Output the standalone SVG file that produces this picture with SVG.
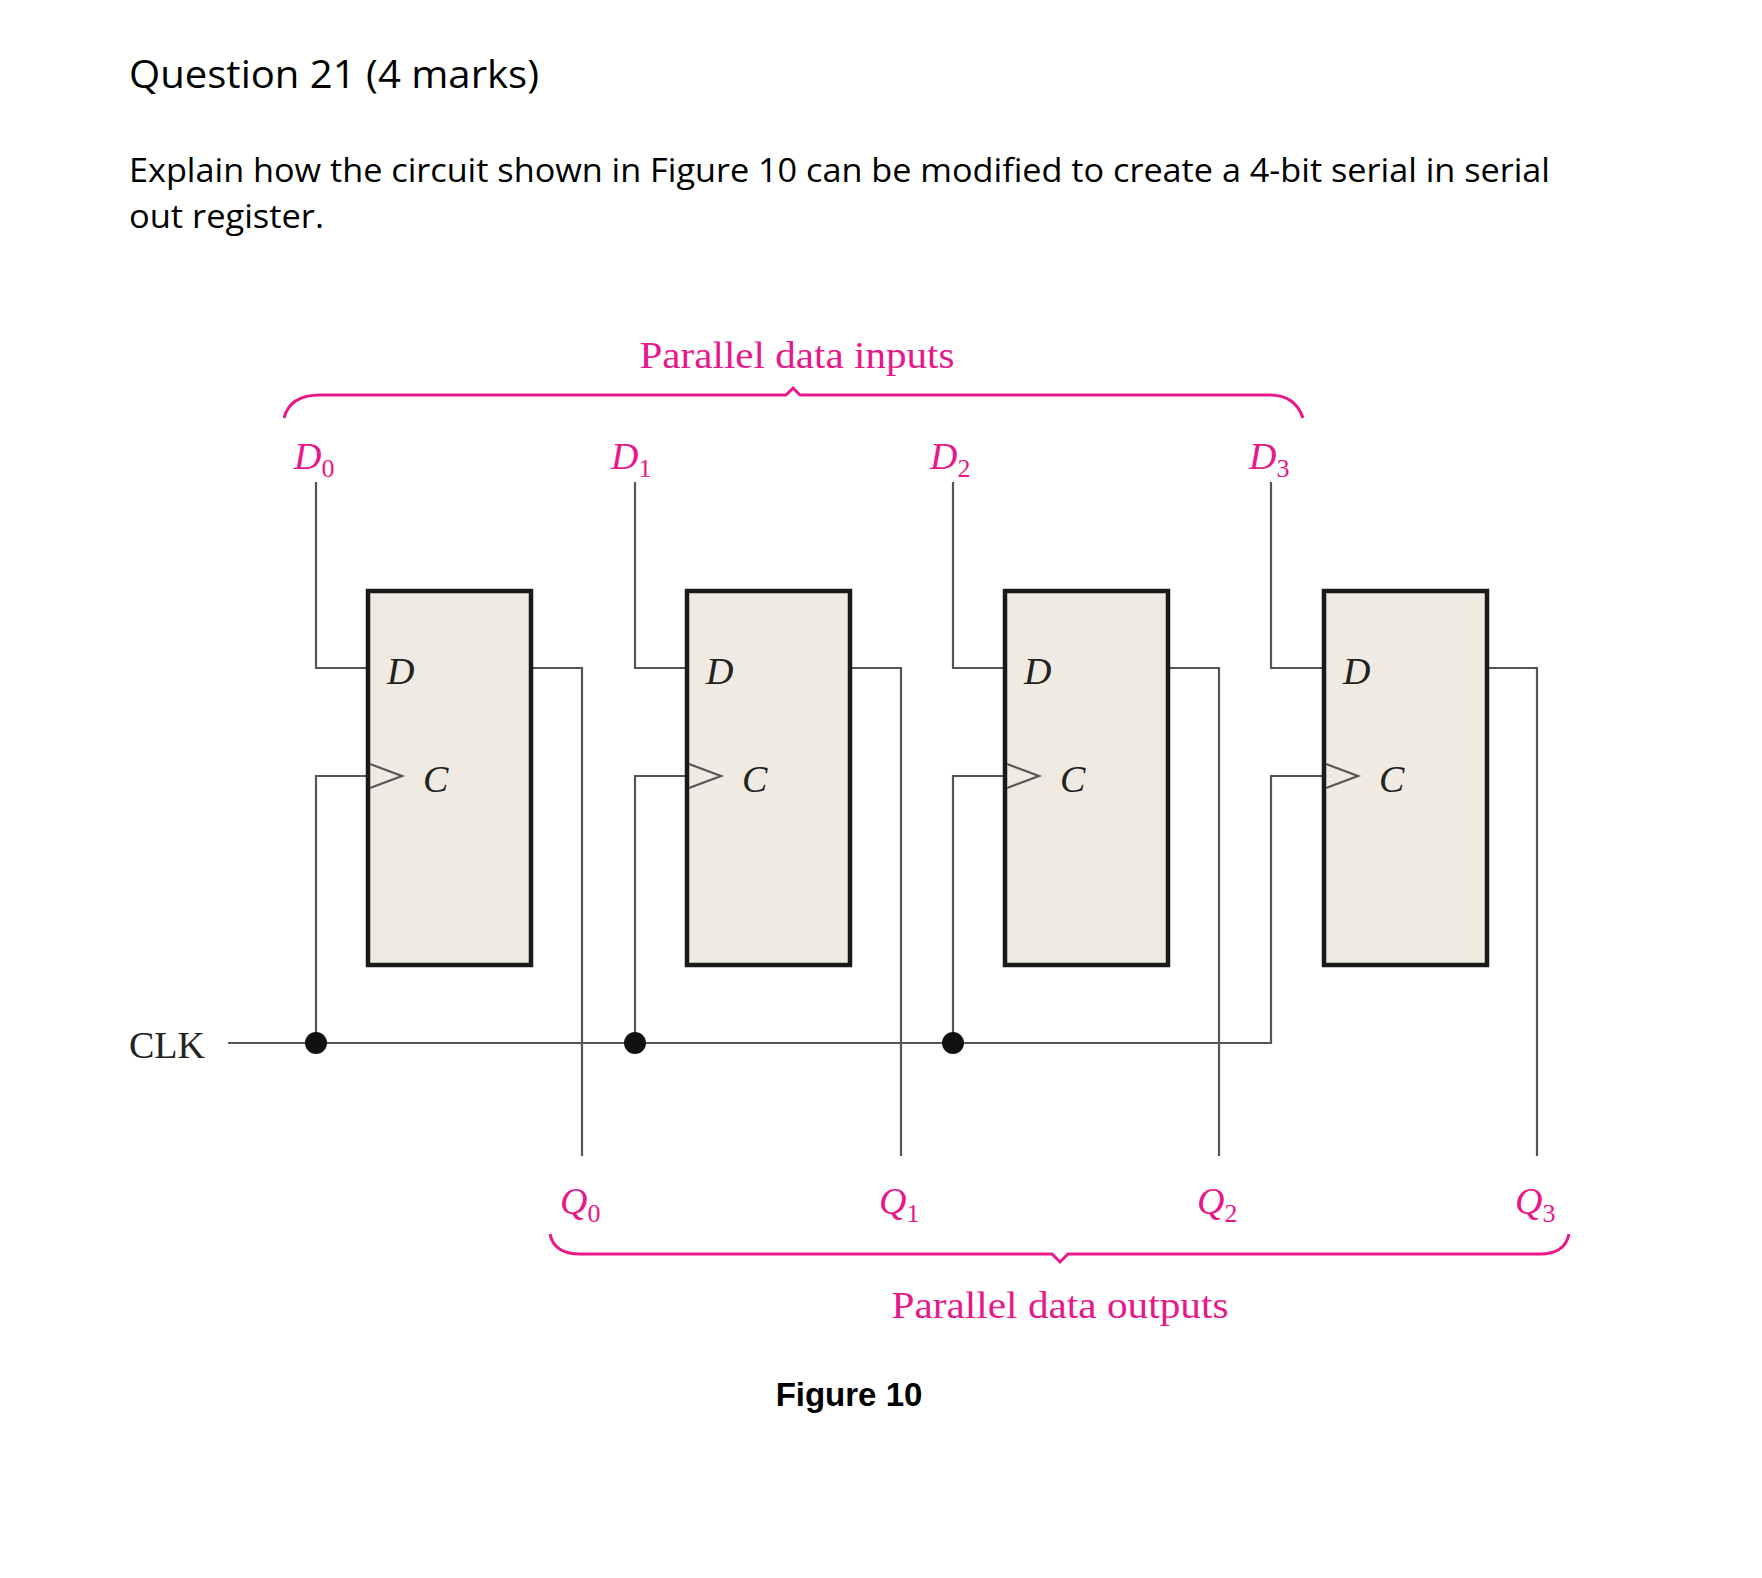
<svg xmlns="http://www.w3.org/2000/svg" width="1762" height="1578" viewBox="0 0 1762 1578">
<style>
.w{fill:none;stroke:#555;stroke-width:2.2}
.box{fill:#efebe3;stroke:#1a1a1a;stroke-width:4.5}
.br{fill:none;stroke:#e8178a;stroke-width:3}
.pk{fill:#e8178a;font-family:"Liberation Serif",serif;font-size:38px}
.it{font-style:italic}
.bl{fill:#222;font-family:"Liberation Serif",serif;font-size:38px;font-style:italic}
.q{fill:#000;font-family:"Open Sans","Noto Sans",sans-serif}
.sub{font-size:26px;font-style:normal}
</style>
<rect width="1762" height="1578" fill="#fff"/>
<text class="q" x="129" y="88" font-size="38" textLength="410" lengthAdjust="spacingAndGlyphs">Question 21 (4 marks)</text>
<text class="q" x="129" y="182" font-size="33" textLength="1421" lengthAdjust="spacingAndGlyphs">Explain how the circuit shown in Figure 10 can be modified to create a 4-bit serial in serial</text>
<text class="q" x="129" y="228" font-size="33" textLength="195" lengthAdjust="spacingAndGlyphs">out register.</text>
<text class="pk" x="797" y="368" text-anchor="middle" textLength="315" lengthAdjust="spacingAndGlyphs">Parallel data inputs</text>
<path class="br" d="M284,418 Q290,395 320,395 L786,395 L793,388 L800,395 L1270,395 Q1295,395 1303,418"/>
<g id="labels-in">
<text class="pk it" x="294" y="469">D<tspan class="sub" dy="8">0</tspan></text>
<text class="pk it" x="611" y="469">D<tspan class="sub" dy="8">1</tspan></text>
<text class="pk it" x="930" y="469">D<tspan class="sub" dy="8">2</tspan></text>
<text class="pk it" x="1249" y="469">D<tspan class="sub" dy="8">3</tspan></text>
</g>
<g id="connectors">
<path class="w" d="M316,482 V668 H368 M635,482 V668 H687 M953,482 V668 H1005 M1271,482 V668 H1324"/>
<path class="w" d="M368,776 H316 V1043 M687,776 H635 V1043 M1005,776 H953 V1043 M1324,776 H1271 V1043 H228"/>
<path class="w" d="M531,668 H582 V1156 M850,668 H901 V1156 M1168,668 H1219 V1156 M1487,668 H1537 V1156"/>
<circle cx="316" cy="1043" r="11" fill="#111"/>
<circle cx="635" cy="1043" r="11" fill="#111"/>
<circle cx="953" cy="1043" r="11" fill="#111"/>
</g>
<g id="ff0"><rect class="box" x="368" y="591" width="163" height="374"/><text class="bl" x="387" y="684">D</text><path class="w" d="M370,764 L402,776 L370,788" stroke="#222"/><text class="bl" x="423" y="792">C</text></g>
<g id="ff1"><rect class="box" x="687" y="591" width="163" height="374"/><text class="bl" x="706" y="684">D</text><path class="w" d="M689,764 L721,776 L689,788" stroke="#222"/><text class="bl" x="742" y="792">C</text></g>
<g id="ff2"><rect class="box" x="1005" y="591" width="163" height="374"/><text class="bl" x="1024" y="684">D</text><path class="w" d="M1007,764 L1039,776 L1007,788" stroke="#222"/><text class="bl" x="1060" y="792">C</text></g>
<g id="ff3"><rect class="box" x="1324" y="591" width="163" height="374"/><text class="bl" x="1343" y="684">D</text><path class="w" d="M1326,764 L1358,776 L1326,788" stroke="#222"/><text class="bl" x="1379" y="792">C</text></g>
<text x="129" y="1058" font-family="Liberation Serif,serif" font-size="38" fill="#222">CLK</text>
<g id="labels-out">
<text class="pk it" x="560" y="1214">Q<tspan class="sub" dy="8">0</tspan></text>
<text class="pk it" x="879" y="1214">Q<tspan class="sub" dy="8">1</tspan></text>
<text class="pk it" x="1197" y="1214">Q<tspan class="sub" dy="8">2</tspan></text>
<text class="pk it" x="1515" y="1214">Q<tspan class="sub" dy="8">3</tspan></text>
</g>
<path class="br" d="M550,1234 Q554,1254 580,1254 L1052,1254 L1060,1262 L1068,1254 L1540,1254 Q1565,1254 1569,1234"/>
<text class="pk" x="1060" y="1318" text-anchor="middle" textLength="337" lengthAdjust="spacingAndGlyphs">Parallel data outputs</text>
<text x="849" y="1406" text-anchor="middle" font-family="Liberation Sans,sans-serif" font-weight="bold" font-size="33" fill="#000">Figure 10</text>
</svg>
